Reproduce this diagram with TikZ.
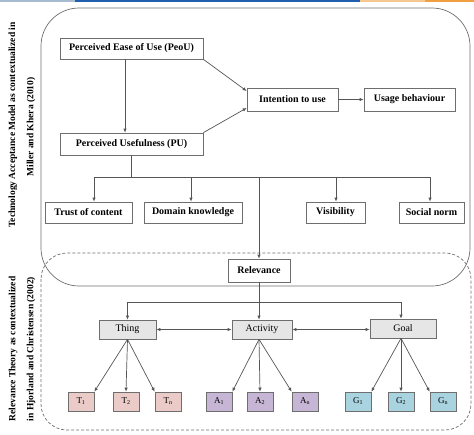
\documentclass[tikz,border=0pt]{standalone}
\usepackage{fontspec}
\setmainfont{Liberation Serif}
\usetikzlibrary{arrows.meta}
\definecolor{bordergray}{HTML}{6E6E6E}
\definecolor{linegray}{HTML}{555555}
\definecolor{boxfill}{HTML}{E6E6E6}
\definecolor{tfill}{HTML}{EBCBC7}
\definecolor{afill}{HTML}{C6B5D4}
\definecolor{gfill}{HTML}{A9D3DF}
\definecolor{barblue}{HTML}{1F5FAE}
\definecolor{barlight}{HTML}{A8BCD0}
\definecolor{barorange}{HTML}{F0A040}
\definecolor{barpeach}{HTML}{F5C890}
\tikzset{
  tambox/.style={draw=bordergray, line width=0.7pt, fill=white, inner sep=0pt,
    font=\fontsize{10}{12}\selectfont\bfseries},
  rtbox/.style={draw=bordergray, line width=0.7pt, fill=boxfill, inner sep=0pt,
    minimum height=19pt, font=\fontsize{10}{12}\selectfont},
  leafbox/.style={draw=bordergray, line width=0.7pt, inner sep=0pt,
    minimum width=26pt, minimum height=19pt, font=\fontsize{9}{11}\selectfont},
  conn/.style={draw=linegray, line width=0.7pt},
  arr/.style={conn, -{Latex[length=4pt,width=3.5pt]}},
  darr/.style={conn, {Latex[length=4pt,width=3.5pt]}-{Latex[length=4pt,width=3.5pt]}},
  sidelabel/.style={rotate=90, inner sep=0pt, font=\fontsize{9.5}{11}\selectfont\bfseries},
}
\begin{document}
\begin{tikzpicture}[x=1pt,y=-1pt]
\useasboundingbox (0,0) rectangle (474,434);
% top strip
\fill[barlight] (0,0) rectangle (75,2);
\fill[barblue] (75,0) rectangle (360,2);
\fill[barpeach] (360,0) rectangle (425,2);
\fill[barorange] (425,0) rectangle (474,2);

% frames
\draw[bordergray, line width=0.7pt, rounded corners=38pt] (41,8) rectangle (470,286);
\draw[bordergray, line width=0.7pt, dash pattern=on 3pt off 2pt, rounded corners=26pt] (41,253) rectangle (471,430);

% side labels
\node[sidelabel] (lab1a) at (13,125) {Technology Acceptance Model as contextualized in};
\node[sidelabel] (lab1b) at (31,127) {Miller and Khera (2010)};
\node[sidelabel] (lab2a) at (13,349) {Relevance Theory as contextualized};
\node[sidelabel] (lab2b) at (31,349) {in Hjorland and Christensen (2002)};

% TAM boxes
\node[tambox, minimum width=143pt, minimum height=21pt] (peou) at (131.5,48.5) {Perceived Ease of Use (PeoU)};
\node[tambox, minimum width=143pt, minimum height=22pt] (pu) at (131.5,144) {Perceived Usefulness (PU)};
\node[tambox, minimum width=91pt, minimum height=23pt] (int) at (292.5,99.5) {Intention to use};
\node[tambox, minimum width=91pt, minimum height=23pt] (usage) at (409.5,99.5) {Usage behaviour};

\node[tambox, minimum width=87pt, minimum height=21pt] (trust) at (88.5,212.5) {Trust of content};
\node[tambox, minimum width=98pt, minimum height=21pt] (domain) at (193,212.5) {Domain knowledge};
\node[tambox, minimum width=59pt, minimum height=21pt] (vis) at (335.5,212.5) {Visibility};
\node[tambox, minimum width=65pt, minimum height=21pt] (social) at (431.5,212.5) {Social norm};

\node[tambox, minimum width=62pt, minimum height=23pt] (rel) at (259,270.5) {Relevance};

% TAM connectors
\draw[arr] ([xshift=-6.5pt]peou.south) -- ([xshift=-6.5pt]pu.north);
\draw[arr] (peou.south east) -- ([yshift=8.5pt]int.west);
\draw[arr] (pu.north east) -- ([yshift=-8.5pt]int.west);
\draw[arr] (int.east) -- (usage.west);

\coordinate (bar) at (131.5,177);
\coordinate (b1) at (94,177);
\coordinate (b2) at (191,177);
\coordinate (b3) at (336,177);
\coordinate (b4) at (430,177);
\coordinate (brel) at (259,177);
\draw[conn] (pu.south) -- (bar);
\draw[conn] (b1) -- (b4);
\draw[arr] (b1) -- (b1 |- trust.north);
\draw[arr] (b2) -- (b2 |- domain.north);
\draw[arr] (b3) -- (b3 |- vis.north);
\draw[arr] (b4) -- (b4 |- social.north);
\draw[arr] (brel) -- (rel.north);

% Relevance theory boxes
\node[rtbox, minimum width=57pt] (thing) at (127.5,329.5) {Thing};
\node[rtbox, minimum width=60pt] (act) at (262,329.5) {Activity};
\node[rtbox, minimum width=66pt] (goal) at (403,328.5) {Goal};

\coordinate (r1) at (127.5,302);
\coordinate (r2) at (401,302);
\draw[arr] (rel.south) -- (rel.south |- act.north);
\draw[conn] (r1) -- (r2);
\draw[arr] (r1) -- (thing.north);
\draw[arr] (r2) -- (r2 |- goal.north);
\draw[darr] (thing.east) -- (act.west);
\draw[darr] (act.east) -- (act.east -| goal.west);

% leaves
\node[leafbox, fill=tfill] (t1) at (81,401.5) {T\textsubscript{1}};
\node[leafbox, fill=tfill] (t2) at (126,401.5) {T\textsubscript{2}};
\node[leafbox, fill=tfill] (tn) at (168,401.5) {T\textsubscript{n}};
\node[leafbox, fill=afill] (a1) at (219,401.5) {A\textsubscript{1}};
\node[leafbox, fill=afill] (a2) at (260,401.5) {A\textsubscript{2}};
\node[leafbox, fill=afill] (an) at (305,401.5) {A\textsubscript{n}};
\node[leafbox, fill=gfill] (g1) at (358,401.5) {G\textsubscript{1}};
\node[leafbox, fill=gfill] (g2) at (401,401.5) {G\textsubscript{2}};
\node[leafbox, fill=gfill] (gn) at (443,401.5) {G\textsubscript{n}};

\draw[arr] (thing.south) -- (t1.north east);
\draw[arr] (thing.south) -- (t2.north);
\draw[arr] (thing.south) -- (tn.north west);
\draw[arr] ([xshift=-3pt]act.south) -- (a1.north east);
\draw[arr] ([xshift=-3pt]act.south) -- (a2.north);
\draw[arr] ([xshift=-3pt]act.south) -- (an.north west);
\draw[arr] ([xshift=-2pt]goal.south) -- (g1.north east);
\draw[arr] ([xshift=-2pt]goal.south) -- (g2.north);
\draw[arr] ([xshift=-2pt]goal.south) -- (gn.north west);
\end{tikzpicture}
\end{document}
